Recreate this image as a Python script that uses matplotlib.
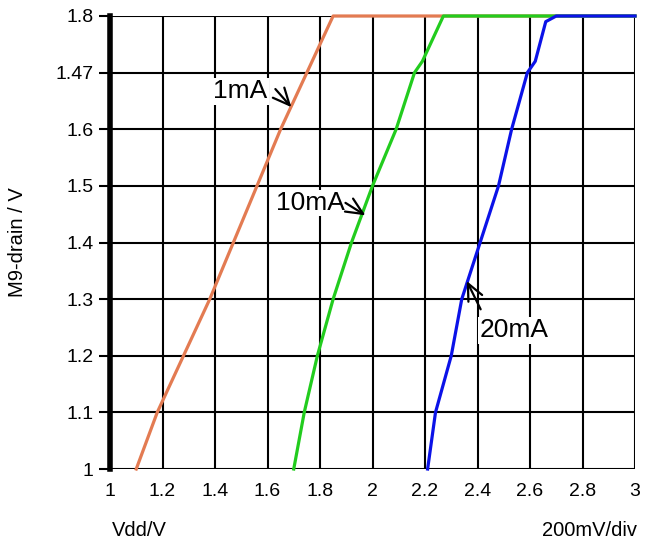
import matplotlib
matplotlib.use("Agg")
import matplotlib.pyplot as plt

plt.rcParams['font.family'] = ['Liberation Sans', 'DejaVu Sans']

# Data
y_levels = [1.0, 1.1, 1.2, 1.3, 1.4, 1.5, 1.6, 1.7, 1.8, 1.8, 1.8]
x_1mA = [1.10, 1.18, 1.28, 1.38, 1.47, 1.56, 1.65, 1.75, 1.85, 1.88, 3.0]

y_10mA = [1.0, 1.1, 1.2, 1.3, 1.4, 1.5, 1.6, 1.7, 1.72, 1.8, 1.8]
x_10mA = [1.70, 1.74, 1.79, 1.85, 1.92, 2.00, 2.09, 2.16, 2.19, 2.27, 3.0]

y_20mA = [1.0, 1.1, 1.2, 1.3, 1.4, 1.5, 1.6, 1.7, 1.72, 1.79, 1.8, 1.8]
x_20mA = [2.21, 2.24, 2.30, 2.34, 2.41, 2.48, 2.53, 2.59, 2.62, 2.66, 2.70, 3.0]

x_ticks = [1, 1.2, 1.4, 1.6, 1.8, 2, 2.2, 2.4, 2.6, 2.8, 3]
x_ticklabels = ['1', '1.2', '1.4', '1.6', '1.8', '2', '2.2', '2.4', '2.6', '2.8', '3']
y_ticks = [1.0, 1.1, 1.2, 1.3, 1.4, 1.5, 1.6, 1.7, 1.8]
y_ticklabels = ['1', '1.1', '1.2', '1.3', '1.4', '1.5', '1.6', '1.47', '1.8']

labels = ['1mA', '10mA', '20mA']
label_xy = [(1.496, 1.667), (1.763, 1.470), (2.538, 1.245)]
arrow_start = [(1.630, 1.671), (1.897, 1.470), (2.412, 1.282)]
arrow_tip = [(1.691, 1.639), (1.973, 1.448), (2.359, 1.332)]

fig = plt.figure(figsize=(6.5, 5.5), dpi=100)
ax = fig.add_axes([110/650, 1-469/550, (635-110)/650, (469-16)/550])

ax.set_xlim(1, 3)
ax.set_ylim(1, 1.8)
ax.set_xticks(x_ticks)
ax.set_xticklabels(x_ticklabels, fontsize=14)
ax.set_yticks(y_ticks)
ax.set_yticklabels(y_ticklabels, fontsize=14)

ax.grid(True, color='black', linewidth=1.5)
ax.set_axisbelow(True)
for s in ['top', 'right', 'bottom']:
    ax.spines[s].set_visible(False)
ax.spines['left'].set_linewidth(4)
ax.tick_params(axis='y', length=8, width=1.5, pad=4)
ax.tick_params(axis='x', length=0, pad=10)

ax.plot(x_1mA, y_levels, color='#E37B52', linewidth=2.3, clip_on=False, zorder=3)
ax.plot(x_10mA, y_10mA, color='#22CC1E', linewidth=2.3, clip_on=False, zorder=4)
ax.plot(x_20mA, y_20mA, color='#0B12E8', linewidth=2.3, clip_on=False, zorder=5)

ap = dict(arrowstyle='->,head_length=1.2,head_width=0.55', color='black', lw=1.6,
          shrinkA=0, shrinkB=0)
bb = dict(fc='white', ec='none', pad=1)
for lab, lxy, st, tp in zip(labels, label_xy, arrow_start, arrow_tip):
    ax.text(lxy[0], lxy[1], lab, fontsize=19, ha='center', va='center', bbox=bb, zorder=6)
    ax.annotate('', xy=tp, xytext=st, arrowprops=ap, zorder=7)

fig.text(18/650, 1-242/550, 'M9-drain / V', rotation=90, ha='center', va='center', fontsize=14.5)
fig.text(112/650, 1-530/550, 'Vdd/V', ha='left', va='center', fontsize=14.5)
fig.text(637/650, 1-530/550, '200mV/div', ha='right', va='center', fontsize=14.5)

fig.savefig('out.png', dpi=100)
